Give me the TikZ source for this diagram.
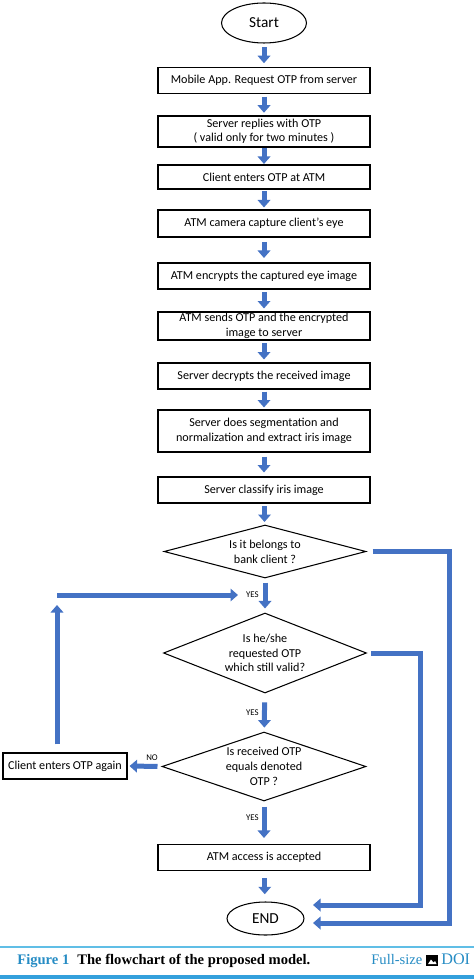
\documentclass[tikz,border=0pt]{standalone}
\usepackage{fontspec}
\setmainfont{Carlito}
\newfontfamily\capfont{Liberation Serif}
\usetikzlibrary{arrows.meta,calc,shapes.geometric}
\definecolor{flowblue}{RGB}{68,114,196}
\definecolor{capblue}{RGB}{38,140,196}
\definecolor{rulecyan}{RGB}{96,190,230}
\definecolor{rulebar}{RGB}{52,160,220}
\tikzset{
  stepbox/.style={
    draw=black,
    line width=0.6pt,
    minimum width=4.24cm,
    minimum height=0.52cm,
    inner sep=1pt,
    align=center,
    font=\fontsize{6.9}{8.2}\selectfont
  },
  terminal/.style={
    ellipse,
    draw=black,
    line width=0.6pt,
    inner sep=0pt,
    font=\fontsize{8.7}{10}\selectfont
  },
  decision/.style={
    diamond,
    draw=black,
    line width=0.6pt,
    aspect=2.6,
    inner sep=0pt,
    align=center,
    font=\fontsize{6.9}{8.4}\selectfont
  },
  flow/.style={
    draw=flowblue,
    line width=0.1cm,
    -{Triangle[length=0.15cm,width=0.25cm]}
  },
  tag/.style={inner sep=0pt, font=\fontsize{5}{6}\selectfont},
  capline/.style={anchor=base west, inner sep=0pt,
    font=\capfont\fontsize{8.3}{10}\selectfont}
}
% short arrow centred in the gap between two nodes
\newcommand{\flowstep}[2]{%
  \draw[flow] ($(#1.south)!0.5!(#2.north)+(0,-8)$)
    -- ($(#1.south)!0.5!(#2.north)+(0,8)$);
}

\begin{document}
\begin{tikzpicture}[x=0.02cm, y=-0.02cm]
  \useasboundingbox (0,0) rectangle (474,979);

  % main column
  \node[terminal, minimum width=1.7cm, minimum height=0.8cm] (start) at (264,23) {Start};
  \node[stepbox] (req) at (264,80.5) {Mobile App. Request OTP from server};
  \node[stepbox, minimum height=0.62cm] (reply) at (264,131.5)
    {Server replies with OTP\\( valid only for two minutes )};
  \node[stepbox, minimum height=0.48cm] (enter) at (264,177) {Client enters OTP at ATM};
  \node[stepbox, minimum height=0.54cm] (capture) at (264,223.5) {ATM camera capture client’s eye};
  \node[stepbox] (encrypt) at (264,276) {ATM encrypts the captured eye image};
  \node[stepbox, minimum height=0.56cm, inner sep=0pt] (send) at (264,326)
    {ATM sends OTP and the encrypted\\image to server};
  \node[stepbox] (decrypt) at (264,376) {Server decrypts the received image};
  \node[stepbox, minimum height=0.84cm] (segment) at (264,431)
    {Server does segmentation and\\normalization and extract iris image};
  \node[stepbox] (classify) at (264,490) {Server classify iris image};

  % decisions
  \node[decision, minimum width=4.04cm, minimum height=1.06cm] (bank) at (265,551.5)
    {Is it belongs to\\bank client ?};
  \node[decision, minimum width=4.06cm, minimum height=1.6cm] (valid) at (265,653)
    {Is he/she\\requested OTP\\which still valid?};
  \node[decision, minimum width=4.08cm, minimum height=1.38cm] (equal) at (264,766.5)
    {Is received OTP\\equals denoted\\OTP ?};
  \node[stepbox] (accept) at (264,857.5) {ATM access is accepted};
  \node[terminal, minimum width=1.54cm, minimum height=0.66cm] (endn) at (265.5,918.5) {END};
  \node[stepbox, minimum width=2.48cm] (again) at (65,766) {Client enters OTP again};

  % labels
  \node[tag, anchor=east] (yes1) at (259,595) {YES};
  \node[tag, anchor=east] (yes2) at (259,713) {YES};
  \node[tag, anchor=east] (yes3) at (259,818) {YES};
  \node[tag] (no1) at (152,758) {NO};

  % turning points and free ends
  \coordinate (rt1) at (449,0);
  \coordinate (rt2) at (420,0);
  \coordinate (e1) at (313,905);
  \coordinate (e2) at (313,923);
  \coordinate (lp) at (57,595);
  \coordinate (lpe) at (238,595);

  % arrows down the column
  \flowstep{start}{req}
  \flowstep{req}{reply}
  \flowstep{reply}{enter}
  \flowstep{enter}{capture}
  \flowstep{capture}{encrypt}
  \flowstep{encrypt}{send}
  \flowstep{send}{decrypt}
  \flowstep{decrypt}{segment}
  \flowstep{segment}{classify}
  \flowstep{classify}{bank}
  \draw[flow, shorten <=0.08cm, shorten >=0.08cm] (bank) -- (valid);
  \draw[flow, shorten <=0.18cm, shorten >=0.08cm] (valid) -- (equal);
  \draw[flow, shorten <=0.1cm, shorten >=0.12cm] (equal) -- (accept);
  \flowstep{accept}{endn}

  % side routes
  \draw[flow, shorten <=0.12cm] (bank.east) -- (bank.east -| rt1) |- (e2);
  \draw[flow, shorten <=0.08cm] (valid.east) -- (valid.east -| rt2) |- (e1);
  \draw[flow, shorten <=0.08cm, shorten >=0.04cm] (equal.west) -- (again.east);
  \draw[flow, shorten <=0.16cm, shorten >=0.2cm] (again.north -| lp) -- (lp);
  \draw[flow] (lp) -- (lpe);

  % caption bar
  \draw[rulecyan, line width=0.6pt] (0,947) -- (474,947);
  \draw[rulebar, line width=2.2pt] (0,977) -- (474,977);
  \node[capline, text=capblue, font=\capfont\bfseries\fontsize{8.3}{10}\selectfont] (figlab) at (17,964) {Figure 1};
  \node[capline, font=\capfont\bfseries\fontsize{8.3}{10}\selectfont] (figcap) at (77,964) {The flowchart of the proposed model.};
  \node[capline, text=capblue] (fullsize) at (371,964) {Full-size};
  \fill[black] (426,955) rectangle (438,966);
  \fill[white] (428,964) -- (431,959.5) -- (433.5,962.5) -- (435,961) -- (436.5,964) -- cycle;
  \node[capline, text=capblue, font=\capfont\fontsize{9.2}{10}\selectfont] (doi) at (441,964) {DOI};
\end{tikzpicture}
\end{document}
